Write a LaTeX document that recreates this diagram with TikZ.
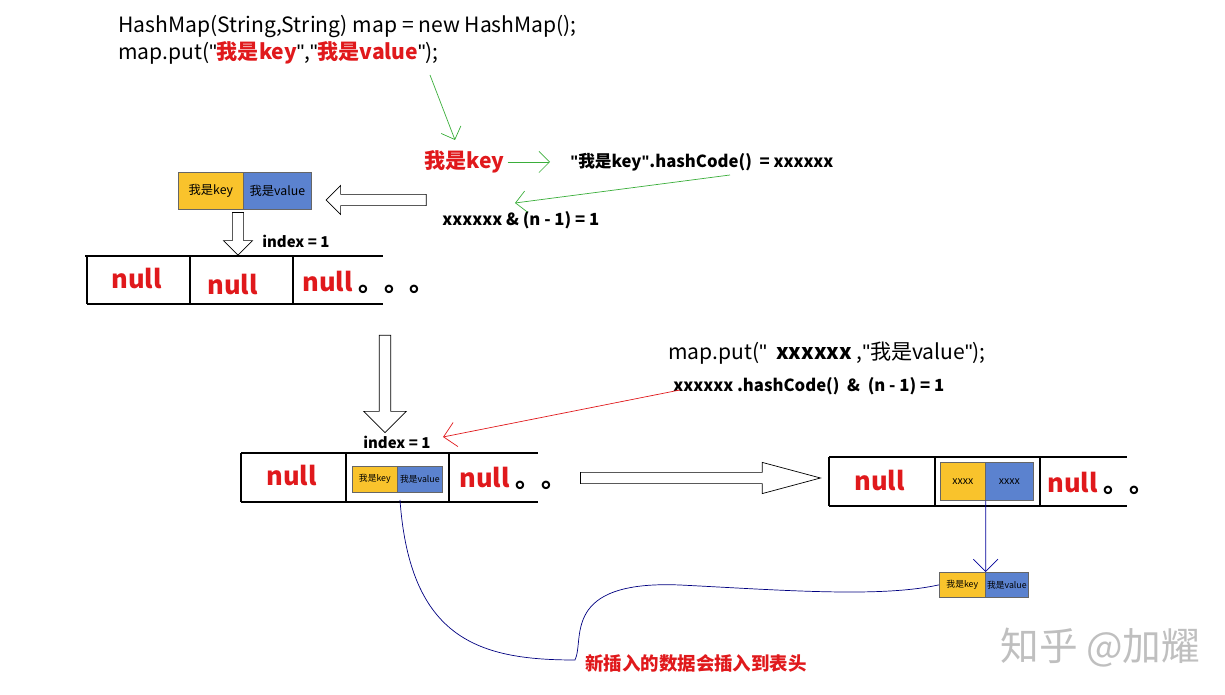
\documentclass[tikz,border=0pt]{standalone}
\usepackage{fontspec}
\setmainfont{Noto Sans CJK SC}
\newfontfamily\lat{Liberation Sans}
\usetikzlibrary{arrows.meta,shapes.arrows}
\definecolor{ky}{HTML}{F9C32C}
\definecolor{vb}{HTML}{5B82CF}
\definecolor{rd}{HTML}{E0191C}
\definecolor{gr}{HTML}{3AAE3A}
\newcommand{\qq}{{\lat\symbol{34}}}
\begin{document}
\begin{tikzpicture}[x=0.02cm,y=-0.02cm,
  txt/.style={anchor=west,inner sep=0,font=\bfseries\fontsize{9.5}{11}\selectfont},
  nul/.style={anchor=west,inner sep=0,text=rd,font=\bfseries\fontsize{14.5}{17}\selectfont},
  kb/.style={draw=black!60,fill=ky,inner sep=0,anchor=north west,font=\fontsize{#1}{#1}\selectfont},
  vbx/.style={draw=black!60,fill=vb,inner sep=0,anchor=north west,font=\fontsize{#1}{#1}\selectfont},
  tl/.style={line width=1.6pt},
  harrow/.style={draw,single arrow,fill=white,minimum height=#1,single arrow head extend=5pt,inner sep=3pt}]
\useasboundingbox (0,0) rectangle (1225,695);
% top code
\node[txt,font=\fontsize{12}{14}\selectfont] (c1) at (118,27) {HashMap(String,String) map = new HashMap();};
\node[txt,font=\fontsize{12}{14}\selectfont] (c2) at (118,53) {map.put(\qq\textcolor{rd}{\bfseries 我是key}\qq,\qq\textcolor{rd}{\bfseries 我是value}\qq);};
\coordinate (g1) at (430,75);
\node[txt,text=rd,font=\bfseries\fontsize{12}{14}\selectfont] (k1) at (424,162) {我是key};
\draw[gr,-{Straight Barb[length=6pt]}] (g1) -- (455,140);
\node[txt] (h1) at (570,162) {\qq 我是key\qq.hashCode() \ = xxxxxx};
\draw[gr,-{Straight Barb[length=6pt]}] (k1.east)++(3,0) -- (550,162);
\node[txt] (h2) at (442,220) {xxxxxx \& (n - 1) = 1};
\coordinate (g2) at (730,175);
\draw[gr,-{Straight Barb[length=6pt]}] (g2) -- (515,203);
% first entry
\node[kb=7,minimum width=1.3cm,minimum height=0.74cm] (e1k) at (178,172) {我是key};
\node[vbx=7,minimum width=1.36cm,minimum height=0.74cm] (e1v) at (243,172) {我是value};
\node[harrow=2cm,shape border rotate=180,minimum width=0.32cm] (a1) at (379,200) {};
\node[harrow=0.85cm,shape border rotate=270,minimum width=0.4cm] (a2) at (238,231) {};
\node[txt,font=\bfseries\fontsize{8.5}{10}\selectfont] (i1) at (262,241) {index = 1};
% table 1
\draw[tl] (85,256) -- (383,256) (87,304) -- (383,304) (87,256) -- (87,304) (190,256) -- (190,304) (293,256) -- (293,304);
\node[nul] (n11) at (111,279) {null};
\node[nul] (n12) at (207,285) {null};
\node[nul] (n13) at (302,282) {null \textcolor{black}{。。。}};
% big down arrow
\node[harrow=1.95cm,shape border rotate=270,minimum width=0.85cm,single arrow head extend=0.3cm] (a3) at (385,381) {};
\node[txt,font=\bfseries\fontsize{8.5}{10}\selectfont] (i2) at (363,442) {index = 1};
% table 2
\draw[tl] (241,453) -- (538,453) (241,502) -- (538,502) (241,453) -- (241,502) (346,453) -- (346,502) (449,453) -- (449,502);
\node[nul] (n21) at (266,476) {null};
\node[kb=5,minimum width=0.9cm,minimum height=0.52cm] (e2k) at (352,466) {我是key};
\node[vbx=5,minimum width=0.9cm,minimum height=0.52cm] (e2v) at (397,466) {我是value};
\node[nul] (n23) at (459,478) {null \textcolor{black}{。。}};
\node[harrow=4.8cm,minimum width=0.3cm,single arrow head extend=0.2cm,single arrow tip angle=30] (a4) at (690,478) {};
% right text
\node[txt,font=\fontsize{12}{14}\selectfont] (p2) at (668,353) {map.put(\qq \ \ \textbf{xxxxxx} ,\qq 我是value\qq);};
\node[txt] (p3) at (673,386) {xxxxxx .hashCode() \ \& \ (n - 1) = 1};
\coordinate (r1) at (680,390);
\draw[rd,-{Straight Barb[length=7pt]}] (r1) -- (443,437);
% table 3
\draw[tl] (829,457) -- (1127,457) (829,506) -- (1127,506) (829,457) -- (829,506) (935,457) -- (935,506) (1040,457) -- (1040,506);
\node[nul] (n31) at (854,481) {null};
\node[kb=6,minimum width=0.9cm,minimum height=0.76cm] (e3k) at (940,462) {xxxx};
\node[vbx=6,minimum width=0.96cm,minimum height=0.76cm] (e3v) at (985,462) {xxxx};
\node[nul] (n33) at (1047,483) {null \textcolor{black}{。。}};
\node[kb=5,minimum width=0.92cm,minimum height=0.5cm] (e4k) at (939,572) {我是key};
\node[vbx=5,minimum width=0.86cm,minimum height=0.5cm] (e4v) at (985,572) {我是value};
\draw[blue!60!black,-{Straight Barb[length=7pt]}] (e3k.south east) -- (e4k.north east);
% curve
\node[txt,text=rd,font=\bfseries\fontsize{10.5}{12}\selectfont] (lab) at (585,663) {新插入的数据会插入到表头};
\draw[blue!50!black] (400,500) .. controls (410,640) and (480,660) .. (575,660) .. controls (585,640) and (560,580) .. (680,585) .. controls (780,590) and (880,598) .. (e4k.west);
\node[anchor=west,inner sep=0,text=black!25,font=\fontsize{22}{24}\selectfont] (wm) at (1000,648) {知乎 @加耀};
\end{tikzpicture}
\end{document}
